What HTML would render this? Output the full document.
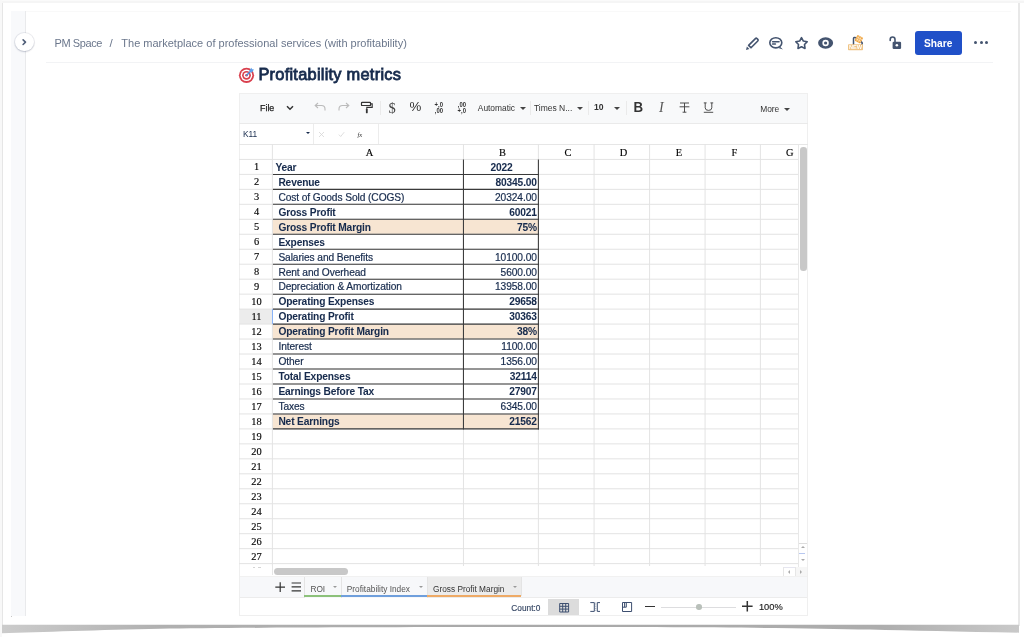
<!DOCTYPE html><html><head><meta charset="utf-8"><style>
*{margin:0;padding:0;box-sizing:border-box}
html,body{width:1024px;height:637px;overflow:hidden;background:#fff;font-family:"Liberation Sans",Arial,sans-serif;color:#172b4d}
div,span,svg{position:absolute}
.t{white-space:nowrap;font-size:8.4px;color:#333;line-height:10px}
.dv{width:1px;background:#eaeaea}
.sel{width:0;height:0;border-left:3.1px solid transparent;border-right:3.1px solid transparent;border-top:3.3px solid #444;margin-left:-0.2px}
.rn{left:240px;width:33px;text-align:center;font-family:"Liberation Serif","Times New Roman",serif;font-size:10.4px;color:#000;-webkit-text-stroke:0.16px #111;line-height:15px;height:15px}
.cl{top:144.5px;height:15px;text-align:center;font-family:"Liberation Serif","Times New Roman",serif;font-size:10.4px;color:#000;-webkit-text-stroke:0.16px #111;line-height:15px}
.c{height:15px;line-height:15px;font-size:10.2px;letter-spacing:-0.08px;color:#172b4d;white-space:nowrap;-webkit-text-stroke:0.2px #172b4d}
.c.b{-webkit-text-stroke:0.05px #172b4d}
.b{font-weight:bold;letter-spacing:-0.14px}
.hl{height:1px;background:#e6e6e6}
.vl{width:1px;background:#e6e6e6}
.dh{height:1px;background:#474747}
.dvv{width:1px;background:#474747}
.pf{background:#f7e5d2}
.ic{fill:none;stroke:#44546f;stroke-width:1.6;stroke-linecap:round;stroke-linejoin:round}
</style></head><body><div id="root" style="left:0;top:0;width:1024px;height:637px;will-change:transform;opacity:0.999">
<div style="left:0;top:0;width:1024px;height:1px;background:#fafafa"></div>
<div style="left:0;top:0.9px;width:1024px;height:2.2px;background:#f5f5f5"></div>
<div style="left:0;top:0;width:1.5px;height:637px;background:#f8f8f8"></div>
<div style="left:1.5px;top:2.5px;width:1.3px;height:623px;background:#e6e6e6"></div>
<div style="left:1018px;top:2.5px;width:1.6px;height:623px;background:#e8e8e8"></div>
<svg style="left:0;top:618px" width="1024" height="19" viewBox="0 618 1024 19"><defs><linearGradient id="sg" x1="0" y1="0" x2="1024" y2="0" gradientUnits="userSpaceOnUse"><stop offset="0" stop-color="#cccccc"/><stop offset="0.16" stop-color="#b0b0b0"/><stop offset="0.5" stop-color="#a9a9a9"/><stop offset="0.86" stop-color="#adadad"/><stop offset="0.995" stop-color="#c9c9c9"/></linearGradient><filter id="bl" x="-2%" y="-50%" width="104%" height="200%"><feGaussianBlur stdDeviation="0.55"/></filter></defs><path d="M2 624.8 L1019 624.8 L1019 632.7 C 960 631.8, 910 630.6, 870 629.6 C 800 627.9, 700 627.2, 512 627.1 C 330 627.2, 220 627.9, 160 628.8 C 100 630, 40 632.2, 2 633.2 Z" fill="url(#sg)" filter="url(#bl)"/></svg>
<div style="left:11px;top:11px;width:14px;height:605px;background:#f8f9fb"></div>
<div style="left:25px;top:11px;width:1px;height:605px;background:#e9eaec"></div>
<div style="left:26px;top:10.5px;width:985px;height:1.3px;background:#f9f9f9"></div>
<div style="left:15px;top:32.5px;width:18.5px;height:18.5px;border-radius:50%;background:#fff;box-shadow:0 0 0 1px rgba(9,30,66,.07),0 1px 2px rgba(9,30,66,.18)"></div>
<svg style="left:15px;top:32.5px" width="19" height="19" viewBox="0 0 19 19"><path d="M8.1 6.9 L10.5 9.2 L8.1 11.5" fill="none" stroke="#505f79" stroke-width="1.6" stroke-linecap="round" stroke-linejoin="round"/></svg>
<div class="t" style="left:54.5px;top:36.2px;font-size:11px;letter-spacing:-0.4px;line-height:14px;color:#6b778c">PM Space</div>
<div class="t" style="left:109.5px;top:35.8px;font-size:11.6px;line-height:14px;color:#6b778c">/</div>
<div class="t" style="left:121.3px;top:35.8px;font-size:11px;line-height:14px;color:#6b778c">The marketplace of professional services (with profitability)</div>
<div style="left:46px;top:62px;width:947px;height:1px;background:#f2f3f5"></div>
<svg style="left:744px;top:35px" width="17" height="17" viewBox="0 0 17 17"><path class="ic" d="M4.6 10.4 L11.4 3.6 Q12.2 2.8 13 3.6 L13.8 4.4 Q14.6 5.2 13.8 6 L7 12.8 Z"/><path d="M2 15 L2.9 11.6 L5.4 14.1 Z" fill="#44546f"/></svg>
<svg style="left:768px;top:35px" width="17" height="17" viewBox="0 0 17 17"><ellipse class="ic" cx="7.8" cy="7.8" rx="6" ry="5.1"/><path d="M11.8 11.6 L15 14.4 L11 13.2 Z" fill="#44546f"/><path d="M4.6 6.8 H11" class="ic" stroke-width="1.2"/><path d="M4.6 9 H7.4" class="ic" stroke-width="1.2"/></svg>
<svg style="left:794px;top:35px" width="15" height="16" viewBox="0 0 15 16"><path class="ic" stroke-width="1.5" d="M7.50 2.60 L9.35 6.05 L13.21 6.75 L10.50 9.57 L11.03 13.45 L7.50 11.75 L3.97 13.45 L4.50 9.57 L1.79 6.75 L5.65 6.05 Z"/></svg>
<svg style="left:817px;top:36px" width="18" height="14" viewBox="0 0 18 14"><ellipse cx="8.6" cy="7" rx="7.5" ry="5.8" fill="#44546f"/><circle cx="8.6" cy="7" r="3.2" fill="#fff"/><circle cx="8.6" cy="7" r="1.6" fill="#44546f"/></svg>
<svg style="left:847px;top:34px" width="18" height="18" viewBox="0 0 18 18"><path d="M6.5 11 V4.6 Q6.5 3.1 8 3.5 L14.6 8.1 Q15.9 9.3 14.6 10.6" fill="none" stroke="#44546f" stroke-width="1.5" stroke-linecap="round"/><g transform="rotate(28 11.9 5.2)"><rect x="8.7" y="2" width="6.4" height="6.4" rx="0.8" fill="#eea23c"/><path d="M10.85 2.2 V8.2 M12.95 2.2 V8.2 M8.9 4.15 H14.9 M8.9 6.25 H14.9" stroke="#fbe3bf" stroke-width="0.7"/></g><rect x="1" y="10.3" width="15" height="5.9" rx="0.8" fill="#efc486"/><text x="8.5" y="15.3" font-family="Liberation Sans" font-weight="bold" font-size="5.6" fill="#fff" text-anchor="middle">NEW</text></svg>
<svg style="left:887px;top:35px" width="16" height="16" viewBox="0 0 16 16"><path d="M3.2 5.4 V4.4 Q3.2 2 5.6 2 Q8 2 8 4.4 V7.2" fill="none" stroke="#44546f" stroke-width="1.6" stroke-linecap="round"/><rect x="5.6" y="6.7" width="8.5" height="7.2" rx="1.2" fill="#44546f"/><circle cx="9.85" cy="10.3" r="1.3" fill="#fff"/></svg>
<div style="left:915px;top:31px;width:46.5px;height:24px;background:#2050c8;border-radius:3px;color:#fff;font-weight:bold;font-size:10.2px;text-align:center;line-height:25.6px">Share</div>
<div style="left:974.0px;top:41.2px;width:3px;height:3px;border-radius:50%;background:#44546f"></div>
<div style="left:979.5px;top:41.2px;width:3px;height:3px;border-radius:50%;background:#44546f"></div>
<div style="left:985.0px;top:41.2px;width:3px;height:3px;border-radius:50%;background:#44546f"></div>
<svg style="left:238px;top:66px" width="19" height="18" viewBox="0 0 19 18"><circle cx="8.5" cy="9.3" r="7.6" fill="#d9404e"/><circle cx="8.5" cy="9.3" r="5.8" fill="#fff"/><circle cx="8.5" cy="9.3" r="4.4" fill="#d9404e"/><circle cx="8.5" cy="9.3" r="2.7" fill="#fff"/><circle cx="8.5" cy="9.3" r="1.3" fill="#d9404e"/><path d="M8.7 9.2 L12.4 5.5" stroke="#4a8fe0" stroke-width="1.5" stroke-linecap="round"/><path d="M11.3 5.2 L13.1 1.8 L14.3 3.3 L16 3.6 L13.9 6.4 Z" fill="#5ea0ea"/></svg>
<div class="t" style="left:258.4px;top:63px;font-size:16.4px;line-height:22px;color:#172b4d;letter-spacing:0.25px;-webkit-text-stroke:0.8px #172b4d">Profitability metrics</div>
<div style="left:239px;top:92.5px;width:568.5px;height:523.5px;border:1px solid #efefef;background:#fff"></div>
<div style="left:240px;top:93.5px;width:566.5px;height:30px;background:#f8f9fa"></div>
<div class="hl" style="left:239px;top:123px;width:568.5px;background:#eaeaea"></div>
<div class="t" style="left:260px;top:103.3px;font-size:8.9px;color:#222;-webkit-text-stroke:0.25px #222">File</div>
<svg style="left:286px;top:104.7px" width="8" height="6" viewBox="0 0 8 6"><path d="M1 1.2 L4 4.2 L7 1.2" fill="none" stroke="#333" stroke-width="1.5"/></svg>
<svg style="left:314px;top:102px" width="13" height="10" viewBox="0 0 13 10"><path d="M1.5 3.5 H7.5 Q11 3.5 11 7 V8.5" fill="none" stroke="#bbb" stroke-width="1.1"/><path d="M4 1 L1.2 3.5 L4 6" fill="none" stroke="#bbb" stroke-width="1.1"/></svg>
<svg style="left:337px;top:102px" width="13" height="10" viewBox="0 0 13 10"><path d="M11.5 3.5 H5.5 Q2 3.5 2 7 V8.5" fill="none" stroke="#bbb" stroke-width="1.1"/><path d="M9 1 L11.8 3.5 L9 6" fill="none" stroke="#bbb" stroke-width="1.1"/></svg>
<svg style="left:360px;top:101px" width="14" height="13" viewBox="0 0 14 13"><rect x="1.5" y="1.3" width="9" height="3.2" rx="0.6" fill="none" stroke="#333" stroke-width="1.2"/><path d="M10.5 2.9 H12.2 V6.4 H6.8 V8.4" fill="none" stroke="#333" stroke-width="1.1"/><rect x="5.9" y="8" width="1.8" height="4.2" rx="0.4" fill="#333"/></svg>
<div class="dv" style="left:379.5px;top:101px;height:14px"></div>
<div class="t" style="left:388.5px;top:100px;font-family:'Liberation Serif',serif;font-size:14.5px;line-height:16px;color:#444">$</div>
<div class="t" style="left:409.6px;top:100.3px;font-size:13.3px;line-height:14px;color:#333">%</div>
<div class="t" style="left:423.3px;width:20px;text-align:right;top:101.05px;font-size:6.6px;line-height:7px;color:#333;font-weight:bold;transform:scaleX(0.9);transform-origin:100% 0">+,0</div>
<div class="t" style="left:423.3px;width:20px;text-align:right;top:106.95px;font-size:6.6px;line-height:7px;color:#333;font-weight:bold;transform:scaleX(0.9);transform-origin:100% 0">,00</div>
<div class="t" style="left:446.3px;width:20px;text-align:right;top:101.05px;font-size:6.6px;line-height:7px;color:#333;font-weight:bold;transform:scaleX(0.9);transform-origin:100% 0">,00</div>
<div class="t" style="left:446.3px;width:20px;text-align:right;top:106.95px;font-size:6.6px;line-height:7px;color:#333;font-weight:bold;transform:scaleX(0.9);transform-origin:100% 0">+,0</div>
<div class="t" style="left:477.8px;top:102.5px;font-size:8.4px;color:#333">Automatic</div>
<div class="sel" style="left:520px;top:107.3px"></div>
<div class="dv" style="left:529.5px;top:101px;height:14px"></div>
<div class="t" style="left:533.9px;top:102.5px;font-size:8.5px;color:#333">Times N...</div>
<div class="sel" style="left:577.3px;top:107.3px"></div>
<div class="dv" style="left:587.5px;top:101px;height:14px"></div>
<div class="t" style="left:594px;top:101.6px;font-size:8.6px;color:#333;font-weight:bold">10</div>
<div class="sel" style="left:614.4px;top:107.3px"></div>
<div class="dv" style="left:626px;top:101px;height:14px"></div>
<div class="t" style="left:633.6px;top:98.8px;font-size:13.3px;line-height:14px;color:#333;font-weight:bold;transform:scaleY(1.17);transform-origin:0 0">B</div>
<div class="t" style="left:658.9px;top:100.7px;font-family:'Liberation Serif',serif;font-style:italic;font-size:14px;line-height:14px;color:#555">I</div>
<svg style="left:679px;top:102px" width="11" height="11" viewBox="0 0 11 11"><path d="M1 1 H10 M5.5 1 V10.2 M3.6 10.2 H7.4 M0.6 4.8 H10.4" fill="none" stroke="#444" stroke-width="0.95"/></svg>
<svg style="left:702.5px;top:102px" width="11" height="11" viewBox="0 0 11 11"><path d="M0.8 0.9 H3.6 M7.4 0.9 H10.2 M2.2 0.9 V5.8 Q2.2 8.4 5.5 8.4 Q8.8 8.4 8.8 5.8 V0.9 M0.8 10.3 H10.2" fill="none" stroke="#444" stroke-width="0.95"/></svg>
<div class="t" style="left:760.2px;top:104.4px;font-size:8.4px;color:#333">More</div>
<div class="sel" style="left:783.9px;top:107.9px"></div>
<div class="t" style="left:243px;top:129.2px;font-size:8.4px;color:#172b4d">K11</div>
<div class="sel" style="left:306px;top:132.2px;border-top-color:#172b4d;border-left-width:2.3px;border-right-width:2.3px;border-top-width:2.6px"></div>
<div class="vl" style="left:313px;top:123.5px;height:21px;background:#ececec"></div>
<svg style="left:318px;top:131px" width="7" height="7" viewBox="0 0 7 7"><path d="M1 1 L6 6 M6 1 L1 6" stroke="#d6d6d6" stroke-width="0.8"/></svg>
<svg style="left:338px;top:131px" width="7" height="7" viewBox="0 0 7 7"><path d="M0.8 3.6 L2.7 5.5 L6.2 1.2" fill="none" stroke="#d6d6d6" stroke-width="0.8"/></svg>
<div class="t" style="left:357.5px;top:130px;font-family:'Liberation Serif',serif;font-style:italic;font-size:6.6px;color:#333">fx</div>
<div class="vl" style="left:377.8px;top:123.5px;height:21px;background:#ececec"></div>
<div class="hl" style="left:239px;top:144px;width:568.5px"></div>
<div class="pf" style="left:272.4px;top:219.31px;width:266.0px;height:14.97px"></div>
<div class="pf" style="left:272.4px;top:324.1px;width:266.0px;height:14.97px"></div>
<div class="pf" style="left:272.4px;top:413.92px;width:266.0px;height:14.97px"></div>
<div style="left:240px;top:309.13px;width:32.39999999999998px;height:14.97px;background:#ececec"></div>
<svg style="left:239px;top:144px" width="560.8" height="432" viewBox="0 0 560.8 432"><line x1="0" x2="559.8" y1="15.43" y2="15.43" stroke="#e3e3e3" stroke-width="1"/><line x1="0" x2="559.8" y1="30.40" y2="30.40" stroke="#e3e3e3" stroke-width="1"/><line x1="0" x2="559.8" y1="45.37" y2="45.37" stroke="#e3e3e3" stroke-width="1"/><line x1="0" x2="559.8" y1="60.34" y2="60.34" stroke="#e3e3e3" stroke-width="1"/><line x1="0" x2="559.8" y1="75.31" y2="75.31" stroke="#e3e3e3" stroke-width="1"/><line x1="0" x2="559.8" y1="90.28" y2="90.28" stroke="#e3e3e3" stroke-width="1"/><line x1="0" x2="559.8" y1="105.25" y2="105.25" stroke="#e3e3e3" stroke-width="1"/><line x1="0" x2="559.8" y1="120.22" y2="120.22" stroke="#e3e3e3" stroke-width="1"/><line x1="0" x2="559.8" y1="135.19" y2="135.19" stroke="#e3e3e3" stroke-width="1"/><line x1="0" x2="559.8" y1="150.16" y2="150.16" stroke="#e3e3e3" stroke-width="1"/><line x1="0" x2="559.8" y1="165.13" y2="165.13" stroke="#e3e3e3" stroke-width="1"/><line x1="0" x2="559.8" y1="180.10" y2="180.10" stroke="#e3e3e3" stroke-width="1"/><line x1="0" x2="559.8" y1="195.07" y2="195.07" stroke="#e3e3e3" stroke-width="1"/><line x1="0" x2="559.8" y1="210.04" y2="210.04" stroke="#e3e3e3" stroke-width="1"/><line x1="0" x2="559.8" y1="225.01" y2="225.01" stroke="#e3e3e3" stroke-width="1"/><line x1="0" x2="559.8" y1="239.98" y2="239.98" stroke="#e3e3e3" stroke-width="1"/><line x1="0" x2="559.8" y1="254.95" y2="254.95" stroke="#e3e3e3" stroke-width="1"/><line x1="0" x2="559.8" y1="269.92" y2="269.92" stroke="#e3e3e3" stroke-width="1"/><line x1="0" x2="559.8" y1="284.89" y2="284.89" stroke="#e3e3e3" stroke-width="1"/><line x1="0" x2="559.8" y1="299.86" y2="299.86" stroke="#e3e3e3" stroke-width="1"/><line x1="0" x2="559.8" y1="314.83" y2="314.83" stroke="#e3e3e3" stroke-width="1"/><line x1="0" x2="559.8" y1="329.80" y2="329.80" stroke="#e3e3e3" stroke-width="1"/><line x1="0" x2="559.8" y1="344.77" y2="344.77" stroke="#e3e3e3" stroke-width="1"/><line x1="0" x2="559.8" y1="359.74" y2="359.74" stroke="#e3e3e3" stroke-width="1"/><line x1="0" x2="559.8" y1="374.71" y2="374.71" stroke="#e3e3e3" stroke-width="1"/><line x1="0" x2="559.8" y1="389.68" y2="389.68" stroke="#e3e3e3" stroke-width="1"/><line x1="0" x2="559.8" y1="404.65" y2="404.65" stroke="#e3e3e3" stroke-width="1"/><line x1="0" x2="559.8" y1="419.62" y2="419.62" stroke="#e3e3e3" stroke-width="1"/><line x1="0" x2="559.8" y1="434.59" y2="434.59" stroke="#e3e3e3" stroke-width="1"/><line x1="33.40" x2="33.40" y1="0.5" y2="431" stroke="#e3e3e3" stroke-width="1"/><line x1="224.45" x2="224.45" y1="0.5" y2="431" stroke="#e3e3e3" stroke-width="1"/><line x1="299.40" x2="299.40" y1="0.5" y2="431" stroke="#e3e3e3" stroke-width="1"/><line x1="355.10" x2="355.10" y1="0.5" y2="431" stroke="#e3e3e3" stroke-width="1"/><line x1="410.60" x2="410.60" y1="0.5" y2="431" stroke="#e3e3e3" stroke-width="1"/><line x1="466.10" x2="466.10" y1="0.5" y2="431" stroke="#e3e3e3" stroke-width="1"/><line x1="521.40" x2="521.40" y1="0.5" y2="431" stroke="#e3e3e3" stroke-width="1"/><line x1="33.90" x2="299.90" y1="30.40" y2="30.40" stroke="#3a3a3a" stroke-width="1.05"/><line x1="33.90" x2="299.90" y1="45.37" y2="45.37" stroke="#3a3a3a" stroke-width="1.05"/><line x1="33.90" x2="299.90" y1="60.34" y2="60.34" stroke="#3a3a3a" stroke-width="1.05"/><line x1="33.90" x2="299.90" y1="75.31" y2="75.31" stroke="#3a3a3a" stroke-width="1.05"/><line x1="33.90" x2="299.90" y1="90.28" y2="90.28" stroke="#3a3a3a" stroke-width="1.05"/><line x1="33.90" x2="299.90" y1="105.25" y2="105.25" stroke="#3a3a3a" stroke-width="1.05"/><line x1="33.90" x2="299.90" y1="120.22" y2="120.22" stroke="#3a3a3a" stroke-width="1.05"/><line x1="33.90" x2="299.90" y1="135.19" y2="135.19" stroke="#3a3a3a" stroke-width="1.05"/><line x1="33.90" x2="299.90" y1="150.16" y2="150.16" stroke="#3a3a3a" stroke-width="1.05"/><line x1="33.90" x2="299.90" y1="165.13" y2="165.13" stroke="#3a3a3a" stroke-width="1.05"/><line x1="33.90" x2="299.90" y1="180.10" y2="180.10" stroke="#3a3a3a" stroke-width="1.05"/><line x1="33.90" x2="299.90" y1="195.07" y2="195.07" stroke="#3a3a3a" stroke-width="1.05"/><line x1="33.90" x2="299.90" y1="210.04" y2="210.04" stroke="#3a3a3a" stroke-width="1.05"/><line x1="33.90" x2="299.90" y1="225.01" y2="225.01" stroke="#3a3a3a" stroke-width="1.05"/><line x1="33.90" x2="299.90" y1="239.98" y2="239.98" stroke="#3a3a3a" stroke-width="1.05"/><line x1="33.90" x2="299.90" y1="254.95" y2="254.95" stroke="#3a3a3a" stroke-width="1.05"/><line x1="33.90" x2="299.90" y1="269.92" y2="269.92" stroke="#3a3a3a" stroke-width="1.05"/><line x1="33.90" x2="299.90" y1="284.89" y2="284.89" stroke="#3a3a3a" stroke-width="1.05"/><line x1="224.45" x2="224.45" y1="15.43" y2="285.39" stroke="#3a3a3a" stroke-width="1.05"/><line x1="299.40" x2="299.40" y1="15.43" y2="285.39" stroke="#3a3a3a" stroke-width="1.05"/></svg>
<div style="left:272.00px;top:309.13px;width:1px;height:14.97px;background:#8ab4f8"></div>
<div class="cl" style="left:274.00px;width:191.05px">A</div>
<div class="cl" style="left:465.05px;width:74.94999999999999px">B</div>
<div class="cl" style="left:540.00px;width:55.700000000000045px">C</div>
<div class="cl" style="left:595.70px;width:55.5px">D</div>
<div class="cl" style="left:651.20px;width:55.5px">E</div>
<div class="cl" style="left:706.70px;width:55.299999999999955px">F</div>
<div class="cl" style="left:762.00px;width:55.39999999999998px">G</div>
<div class="rn" style="top:159.43px">1</div>
<div class="rn" style="top:174.40px">2</div>
<div class="rn" style="top:189.37px">3</div>
<div class="rn" style="top:204.34px">4</div>
<div class="rn" style="top:219.31px">5</div>
<div class="rn" style="top:234.28px">6</div>
<div class="rn" style="top:249.25px">7</div>
<div class="rn" style="top:264.22px">8</div>
<div class="rn" style="top:279.19px">9</div>
<div class="rn" style="top:294.16px">10</div>
<div class="rn" style="top:309.13px">11</div>
<div class="rn" style="top:324.10px">12</div>
<div class="rn" style="top:339.07px">13</div>
<div class="rn" style="top:354.04px">14</div>
<div class="rn" style="top:369.01px">15</div>
<div class="rn" style="top:383.98px">16</div>
<div class="rn" style="top:398.95px">17</div>
<div class="rn" style="top:413.92px">18</div>
<div class="rn" style="top:428.89px">19</div>
<div class="rn" style="top:443.86px">20</div>
<div class="rn" style="top:458.83px">21</div>
<div class="rn" style="top:473.80px">22</div>
<div class="rn" style="top:488.77px">23</div>
<div class="rn" style="top:503.74px">24</div>
<div class="rn" style="top:518.71px">25</div>
<div class="rn" style="top:533.68px">26</div>
<div class="rn" style="top:548.65px">27</div>
<div class="rn" style="top:563.62px">28</div>
<div class="c b" style="left:275.4px;top:159.88px">Year</div>
<div class="c b" style="left:464.15px;width:74.94999999999999px;text-align:center;top:159.88px">2022</div>
<div class="c b" style="left:278.4px;top:174.82px">Revenue</div>
<div class="c b" style="left:463.45px;width:73.45px;text-align:right;top:174.82px">80345.00</div>
<div class="c" style="left:278.4px;top:189.77px">Cost of Goods Sold (COGS)</div>
<div class="c" style="left:463.45px;width:73.45px;text-align:right;top:189.77px">20324.00</div>
<div class="c b" style="left:278.4px;top:204.72px">Gross Profit</div>
<div class="c b" style="left:463.45px;width:73.45px;text-align:right;top:204.72px">60021</div>
<div class="c b" style="left:278.4px;top:219.66px">Gross Profit Margin</div>
<div class="c b" style="left:463.45px;width:73.45px;text-align:right;top:219.66px">75%</div>
<div class="c b" style="left:278.4px;top:234.61px">Expenses</div>
<div class="c" style="left:278.4px;top:249.55px">Salaries and Benefits</div>
<div class="c" style="left:463.45px;width:73.45px;text-align:right;top:249.55px">10100.00</div>
<div class="c" style="left:278.4px;top:264.50px">Rent and Overhead</div>
<div class="c" style="left:463.45px;width:73.45px;text-align:right;top:264.50px">5600.00</div>
<div class="c" style="left:278.4px;top:279.44px">Depreciation &amp; Amortization</div>
<div class="c" style="left:463.45px;width:73.45px;text-align:right;top:279.44px">13958.00</div>
<div class="c b" style="left:278.4px;top:294.38px">Operating Expenses</div>
<div class="c b" style="left:463.45px;width:73.45px;text-align:right;top:294.38px">29658</div>
<div class="c b" style="left:278.4px;top:309.33px">Operating Profit</div>
<div class="c b" style="left:463.45px;width:73.45px;text-align:right;top:309.33px">30363</div>
<div class="c b" style="left:278.4px;top:324.28px">Operating Profit Margin</div>
<div class="c b" style="left:463.45px;width:73.45px;text-align:right;top:324.28px">38%</div>
<div class="c" style="left:278.4px;top:339.22px">Interest</div>
<div class="c" style="left:463.45px;width:73.45px;text-align:right;top:339.22px">1100.00</div>
<div class="c" style="left:278.4px;top:354.17px">Other</div>
<div class="c" style="left:463.45px;width:73.45px;text-align:right;top:354.17px">1356.00</div>
<div class="c b" style="left:278.4px;top:369.11px">Total Expenses</div>
<div class="c b" style="left:463.45px;width:73.45px;text-align:right;top:369.11px">32114</div>
<div class="c b" style="left:278.4px;top:384.06px">Earnings Before Tax</div>
<div class="c b" style="left:463.45px;width:73.45px;text-align:right;top:384.06px">27907</div>
<div class="c" style="left:278.4px;top:399.00px">Taxes</div>
<div class="c" style="left:463.45px;width:73.45px;text-align:right;top:399.00px">6345.00</div>
<div class="c b" style="left:278.4px;top:413.94px">Net Earnings</div>
<div class="c b" style="left:463.45px;width:73.45px;text-align:right;top:413.94px">21562</div>
<div style="left:240px;top:566px;width:558.8px;height:9.5px;background:#fff"></div>
<div style="left:252.5px;top:567px;width:2.5px;height:1px;background:#d4d4d4"></div><div style="left:258px;top:567px;width:2.5px;height:1px;background:#d4d4d4"></div>
<div class="vl" style="left:272px;top:565px;height:10px"></div>
<div style="left:273.5px;top:568px;width:74.5px;height:7px;border-radius:3.5px;background:#c8c8c8"></div>
<div style="left:798px;top:144.5px;width:8.5px;height:431.0px;background:#fff;border-left:1px solid #e8e8e8"></div>
<div style="left:800px;top:146.6px;width:6.6px;height:124px;border-radius:3.3px;background:#c8c8c8"></div>
<div class="hl" style="left:798.5px;top:542.5px;width:8px;background:#ddd"></div>
<div style="left:800.5px;top:546.3px;width:0;height:0;border-left:2.4px solid transparent;border-right:2.4px solid transparent;border-bottom:2.6px solid #aaa"></div>
<div style="left:799px;top:553.3px;width:5.5px;height:1px;background:#b8c8f0"></div>
<div style="left:800.5px;top:559px;width:0;height:0;border-left:2.4px solid transparent;border-right:2.4px solid transparent;border-top:2.6px solid #aaa"></div>
<div class="hl" style="left:783px;top:566.5px;width:24px;background:#e6e6f0"></div>
<div class="vl" style="left:783px;top:566.5px;height:9px"></div>
<div class="vl" style="left:795px;top:566.5px;height:9px"></div>
<div style="left:795.5px;top:567px;width:11px;height:8.5px;background:#f6f6f6"></div>
<div style="left:788px;top:569.5px;width:0;height:0;border-top:2.3px solid transparent;border-bottom:2.3px solid transparent;border-right:2.6px solid #aaa"></div>
<div style="left:800.3px;top:569.5px;width:0;height:0;border-top:2.3px solid transparent;border-bottom:2.3px solid transparent;border-left:2.6px solid #aaa"></div>
<div style="left:240px;top:575.5px;width:566.5px;height:22.5px;background:#f7f8fa;border-top:1px solid #f1f1f1;border-bottom:1px solid #ececec"></div>
<svg style="left:275px;top:581.5px" width="11" height="11" viewBox="0 0 11 11"><path d="M5.2 0.3 V10 M0.3 5.1 H10" stroke="#333" stroke-width="1.2"/></svg>
<svg style="left:290.5px;top:581.8px" width="11" height="10" viewBox="0 0 11 10"><path d="M0.6 1 H10 M0.6 4.9 H10 M0.6 8.8 H10" stroke="#333" stroke-width="1.15"/></svg>
<div style="left:304.2px;top:576.5px;width:36.400000000000034px;height:21px;background:#f7f8fa;border-left:1px solid #e4e4e4"></div>
<div style="left:304.2px;top:595.2px;width:36.400000000000034px;height:2.2px;background:#8cc17a"></div>
<div class="t" style="left:310.4px;top:584.4px;font-size:8.3px;color:#555">ROI</div>
<div class="sel" style="left:333.0px;top:586.3px;border-top-color:#999;border-left-width:2.2px;border-right-width:2.2px;border-top-width:2.2px"></div>
<div style="left:340.6px;top:576.5px;width:86.19999999999999px;height:21px;background:#f7f8fa;border-left:1px solid #e4e4e4"></div>
<div style="left:340.6px;top:595.2px;width:86.19999999999999px;height:2.2px;background:#6f9fdc"></div>
<div class="t" style="left:346.8px;top:584.4px;font-size:8.3px;color:#555">Profitability Index</div>
<div class="sel" style="left:419.2px;top:586.3px;border-top-color:#999;border-left-width:2.2px;border-right-width:2.2px;border-top-width:2.2px"></div>
<div style="left:426.8px;top:576.5px;width:93.80000000000001px;height:21px;background:#ececec;border-left:1px solid #e4e4e4"></div>
<div style="left:426.8px;top:595.2px;width:93.80000000000001px;height:2.2px;background:#eeaa66"></div>
<div class="t" style="left:433.0px;top:584.4px;font-size:8.3px;color:#333">Gross Profit Margin</div>
<div class="sel" style="left:513.0px;top:586.3px;border-top-color:#999;border-left-width:2.2px;border-right-width:2.2px;border-top-width:2.2px"></div>
<div class="vl" style="left:520.6px;top:576.5px;height:19px;background:#e4e4e4"></div>
<div class="t" style="left:511.3px;top:602.5px;font-size:8.3px;color:#344563;-webkit-text-stroke:0.15px #344563">Count:0</div>
<div style="left:548px;top:599px;width:31px;height:16.3px;background:#dcdcdc"></div>
<svg style="left:558px;top:602px" width="12" height="11" viewBox="0 0 12 11"><path d="M1.7 1.5 H10.6 V10 H1.7 Z M1.7 4.3 H10.6 M1.7 7.1 H10.6 M4.7 1.5 V10 M7.7 1.5 V10" fill="none" stroke="#3d4f70" stroke-width="1"/></svg>
<svg style="left:589px;top:601px" width="13" height="12" viewBox="0 0 13 12"><path d="M1.3 1.6 H5.3 V10.4 H1.3 M11 1.6 H8.3 V10.4 H11" fill="none" stroke="#3d4f70" stroke-width="1"/><path d="M6.8 1.6 V10.4" stroke="#8a96ad" stroke-width="0.9" stroke-dasharray="1 0.8"/></svg>
<svg style="left:621px;top:601px" width="12" height="12" viewBox="0 0 12 12"><path d="M1.5 1.5 H10.6 V10.5 H1.5 Z M1.5 6.2 H5.3 V1.5 M3.6 1.5 V6.2" fill="none" stroke="#3d4f70" stroke-width="1"/></svg>
<div style="left:644.5px;top:605.7px;width:10.5px;height:1.6px;background:#333"></div>
<div style="left:661px;top:606.8px;width:75px;height:1px;background:#dddddf"></div>
<div style="left:696px;top:604.3px;width:5.6px;height:5.6px;border-radius:50%;background:#b9c0ba"></div>
<svg style="left:742px;top:601.3px" width="11" height="11" viewBox="0 0 11 11"><path d="M5.3 0 V10.6 M0 5.3 H10.6" stroke="#333" stroke-width="1.5"/></svg>
<div class="t" style="left:758.9px;top:601.9px;font-size:9.3px;color:#222;-webkit-text-stroke:0.15px #222">100%</div>
<div style="left:10.5px;top:615.5px;width:1.3px;height:1.2px;background:#b4b4b4;border-radius:0.5px"></div>
</div></body></html>
